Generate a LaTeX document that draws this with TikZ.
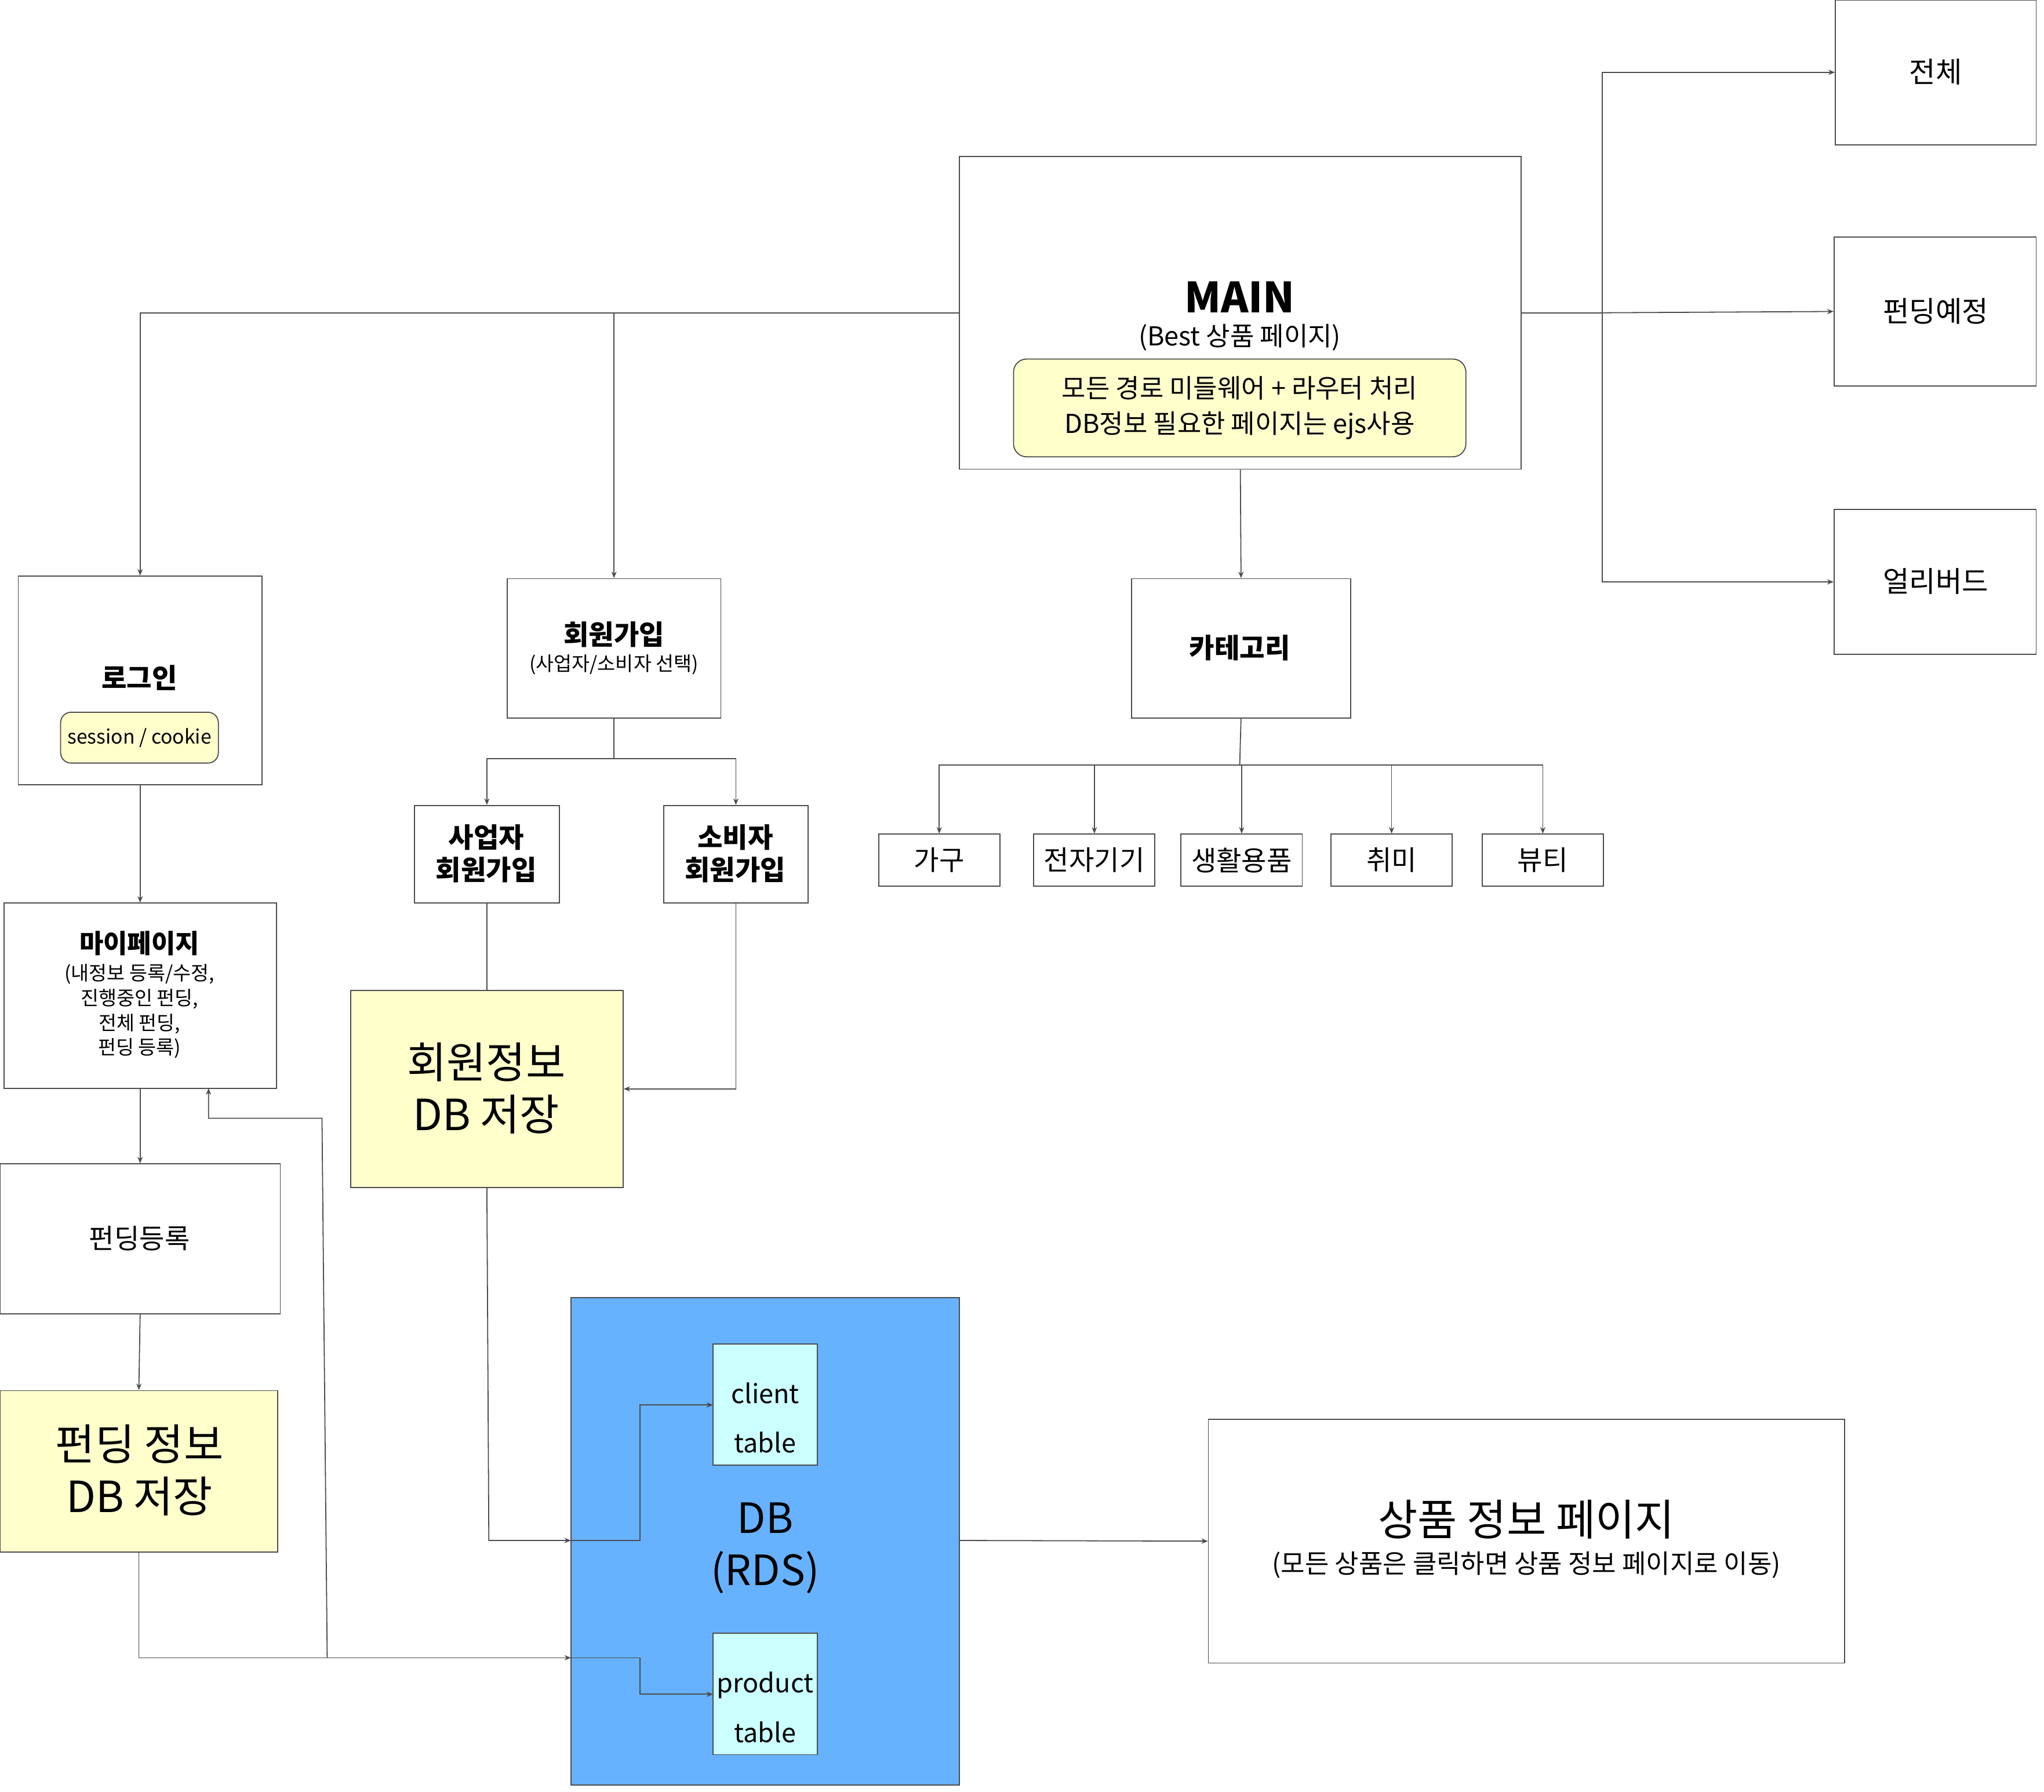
\documentclass[tikz,border=0pt]{standalone}
\usepackage{fontspec}
\setmainfont{Noto Sans CJK KR}
\usetikzlibrary{arrows.meta,shapes.geometric}
\definecolor{ylw}{HTML}{FFFFCC}
\definecolor{dbblue}{HTML}{66B2FF}
\definecolor{tcyan}{HTML}{CCFFFF}
\tikzset{
 bx/.style={draw=black!70,line width=0.8pt,fill=white,inner sep=0pt},
 yb/.style={draw=black!70,line width=0.8pt,fill=ylw,inner sep=0pt},
 ln/.style={draw=black!70,line width=0.8pt},
 ar/.style={ln,-{Stealth[length=5pt,width=4pt]}},
 lab/.style={align=center,inner sep=0pt},
}
\newcommand{\rbox}[6]{\node[#6,minimum width=#3-#1,minimum height=#4-#2] (#5) at ({(#1+#3)/2},{(#2+#4)/2}) {};}
\begin{document}
\begin{tikzpicture}[x=1pt,y=-1pt]
\useasboundingbox (0,0) rectangle (1568,1375);
\rbox{1408}{0}{1562}{111}{all}{bx}
\rbox{1407}{182}{1562}{296}{plan}{bx}
\rbox{1407}{391}{1562}{502}{early}{bx}
\rbox{736}{120}{1167}{360}{main}{bx}
\rbox{14}{442}{201}{602}{login}{bx}
\rbox{389}{444}{553}{551}{join}{bx}
\rbox{868}{444}{1036}{551}{cat}{bx}
\rbox{318}{618}{429}{693}{biz}{bx}
\rbox{509}{618}{620}{693}{cons}{bx}
\rbox{269}{760}{478}{911}{memdb}{yb}
\rbox{674}{640}{767}{680}{c1}{bx}
\rbox{793}{640}{886}{680}{c2}{bx}
\rbox{906}{640}{999}{680}{c3}{bx}
\rbox{1021}{640}{1114}{680}{c4}{bx}
\rbox{1137}{640}{1230}{680}{c5}{bx}
\rbox{3}{693}{212}{835}{my}{bx}
\rbox{0}{893}{215}{1008}{freg}{bx}
\rbox{0}{1067}{213}{1191}{fdb}{yb}
\rbox{927}{1089}{1415}{1276}{prod}{bx}
% texts
\node[lab,font=\fontsize{22}{26}\selectfont] at (1485,55) {전체};
\node[lab,font=\fontsize{22}{26}\selectfont] at (1485,239) {펀딩예정};
\node[lab,font=\fontsize{22}{26}\selectfont] at (1485,446) {얼리버드};
\node[lab,font=\fontsize{32}{36}\selectfont\bfseries] at (951,228) {MAIN};
\node[lab,font=\fontsize{20}{24}\selectfont] at (951,259) {(Best 상품 페이지)};
\node[yb,rounded corners=10pt,minimum width=347,minimum height=75,align=center,font=\fontsize{20}{27}\selectfont] (mw) at (951,313) {모든 경로 미들웨어 + 라우터 처리\\DB정보 필요한 페이지는 ejs사용};
\node[lab,font=\fontsize{21}{25}\selectfont\bfseries] at (107,520) {로그인};
\node[yb,rounded corners=8pt,minimum width=121,minimum height=39,font=\fontsize{15}{18}\selectfont] (sess) at (107,566) {session / cookie};
\node[lab,font=\fontsize{21}{25}\selectfont\bfseries] at (471,487) {회원가입};
\node[lab,font=\fontsize{15}{18}\selectfont] at (471,510) {(사업자/소비자 선택)};
\node[lab,font=\fontsize{21}{25}\selectfont\bfseries] at (951,497) {카테고리};
\node[lab,font=\fontsize{21}{25}\selectfont\bfseries] at (373,655) {사업자\\회원가입};
\node[lab,font=\fontsize{21}{25}\selectfont\bfseries] at (564,655) {소비자\\회원가입};
\node[lab,font=\fontsize{33}{40}\selectfont] at (373,835) {회원정보\\DB 저장};
\foreach \n/\t in {c1/가구,c2/전자기기,c3/생활용품,c4/취미,c5/뷰티}
  \node[lab,font=\fontsize{21}{25}\selectfont] at (\n) {\t};
\node[lab,font=\fontsize{20}{24}\selectfont\bfseries] at (107,724) {마이페이지};
\node[lab,font=\fontsize{15}{19}\selectfont] at (107,776) {(내정보 등록/수정,\\진행중인 펀딩,\\전체 펀딩,\\펀딩 등록)};
\node[lab,font=\fontsize{21}{25}\selectfont] at (107,950) {펀딩등록};
\node[lab,font=\fontsize{33}{40}\selectfont] at (107,1128) {펀딩 정보\\DB 저장};
\node[lab,font=\fontsize{33}{40}\selectfont] at (1171,1166) {상품 정보 페이지};
\node[lab,font=\fontsize{20}{24}\selectfont] at (1171,1201) {(모든 상품은 클릭하면 상품 정보 페이지로 이동)};
% DB cylinder
\node[cylinder,shape border rotate=90,aspect=0.12,draw=black!70,line width=0.8pt,fill=dbblue,minimum width=298,minimum height=374,inner sep=0pt] (db) at (587,1183) {};
\node[lab,font=\fontsize{32}{40}\selectfont] at (587,1188) {DB\\(RDS)};
\node[cylinder,shape border rotate=90,aspect=0.2,draw=black!70,line width=0.8pt,fill=tcyan,minimum width=80,minimum height=93,inner sep=0pt] (ct) at (587,1078) {};
\node[lab,font=\fontsize{20}{38}\selectfont] at (587,1088) {client\\table};
\node[cylinder,shape border rotate=90,aspect=0.2,draw=black!70,line width=0.8pt,fill=tcyan,minimum width=80,minimum height=93,inner sep=0pt] (pt) at (587,1300) {};
\node[lab,font=\fontsize{20}{38}\selectfont] at (587,1310) {product\\table};
% coordinates
\coordinate (dbl1) at (438,1182);
\coordinate (dbl2) at (438,1272);
\coordinate (ctl) at (547,1078);
\coordinate (ptl) at (547,1300);
% connectors
\draw[ar] (main.west) -| (login.north);
\draw[ar] (471,240) -- (join.north);
\draw[ln] (main.east) -- (1229,240);
\draw[ar] (1229,56) |- (all.west);
\draw[ar] (1229,240) -- (plan.west);
\draw[ar] (1229,56) |- (early.west);
\draw[ar] (main.south) -- (cat.north);
\draw[ln] (join.south) -- (471,582);
\draw[ar] (471,582) -| (biz.north);
\draw[ar] (471,582) -| (cons.north);
\draw[ln] (biz.south) -- (memdb.north);
\draw[ar] (cons.south) |- (memdb.east);
\draw[ar] (memdb.south) -- (375,1182) -- (dbl1);
\draw[ln] (cat.south) -- (951,587);
\foreach \n in {c1,c2,c3,c4,c5} \draw[ar] (951,587) -| (\n.north);
\draw[ar] (login.south) -- (my.north);
\draw[ar] (my.south) -- (freg.north);
\draw[ar] (freg.south) -- (fdb.north);
\draw[ar] (fdb.south) |- (dbl2);
\draw[ar] (251,1272) -- (247,858) -- (160,858) -- (160,835);
\draw[ar] (dbl1) -- (491,1182) |- (ctl);
\draw[ar] (dbl2) -- (491,1272) |- (ptl);
\draw[ar] (736,1182) -- (prod.west);
\end{tikzpicture}
\end{document}
